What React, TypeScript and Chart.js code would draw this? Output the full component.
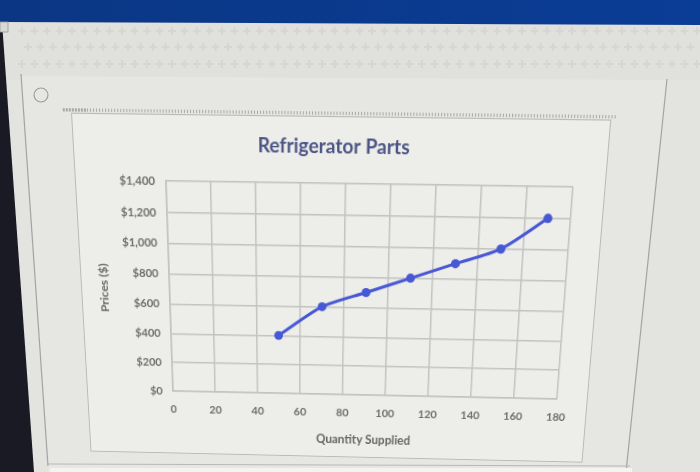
import React, { useEffect, useRef } from "react";
import { Chart, registerables } from "chart.js";

Chart.register(...registerables);

// ---- data ----
const quantities = [50, 70, 90, 110, 130, 150, 170];
const prices = [400, 600, 700, 800, 900, 1000, 1200];
const xTickValues = [0, 20, 40, 60, 80, 100, 120, 140, 160, 180];
const yTickValues = [0, 200, 400, 600, 800, 1000, 1200, 1400];
const chartTitle = "Refrigerator Parts";
const xAxisTitle = "Quantity Supplied";
const yAxisTitle = "Prices ($)";

// ---- layout constants ----
const PL = 91; // y-axis block width
const PT = 61; // title block height
const PR = 31;
const PB = 66; // x-axis block height
const W = PL + 405 + PR;
const H = PT + 209 + PB;
const FX = 77; // frame offset inside wrapper
const FY = 121;

const FONT = "Lato, 'Open Sans', 'DejaVu Sans', sans-serif";

function solveHomography(src: number[][], dst: number[][]): number[] {
  const A: number[][] = [];
  for (let i = 0; i < 4; i++) {
    const [x, y] = src[i];
    const [u, v] = dst[i];
    A.push([x, y, 1, 0, 0, 0, -x * u, -y * u, u]);
    A.push([0, 0, 0, x, y, 1, -x * v, -y * v, v]);
  }
  const n = 8;
  for (let c = 0; c < n; c++) {
    let p = c;
    for (let r = c + 1; r < n; r++) if (Math.abs(A[r][c]) > Math.abs(A[p][c])) p = r;
    [A[c], A[p]] = [A[p], A[c]];
    for (let r = 0; r < n; r++) {
      if (r === c) continue;
      const f = A[r][c] / A[c][c];
      for (let k = c; k <= n; k++) A[r][k] -= f * A[c][k];
    }
  }
  return A.map((row, i) => row[n] / row[i]);
}

const srcQuad = [
  [FX + PL, FY + PT],
  [FX + W - PR, FY + PT],
  [FX + W - PR, FY + H - PB],
  [FX + PL, FY + H - PB],
];
const dstQuad = [
  [166, 181],
  [573, 187],
  [557, 399],
  [173, 391],
];
const h = solveHomography(srcQuad, dstQuad);
const matrix = `matrix3d(${h[0]},${h[3]},0,${h[6]},${h[1]},${h[4]},0,${h[7]},0,0,1,0,${h[2]},${h[5]},0,1)`;

const titlePlugin = {
  id: "frameTitle",
  afterDraw(chart: any) {
    const ctx = chart.ctx;
    ctx.save();
    ctx.font = `bold 19px ${FONT}`;
    ctx.fillStyle = "#4b5485";
    ctx.textAlign = "center";
    ctx.textBaseline = "middle";
    ctx.fillText(chartTitle, chart.width / 2 - 5, 27);
    ctx.restore();
  },
};

function ChartCanvas() {
  const ref = useRef<HTMLCanvasElement | null>(null);
  useEffect(() => {
    if (!ref.current) return;
    const grid = "#c2c2c0";
    const tickFont = { family: FONT, size: 11.5, weight: "bold" };
    const chart = new Chart(ref.current, {
      type: "line",
      data: {
        datasets: [
          {
            data: quantities.map((q, i) => ({ x: q, y: prices[i] })),
            borderColor: "#4758d4",
            backgroundColor: "#4758d4",
            borderWidth: 3,
            pointRadius: 4.5,
            pointBorderWidth: 0,
            pointBackgroundColor: "#4758d4",
            tension: 0.25,
            fill: false,
          },
        ],
      },
      options: {
        responsive: false,
        animation: false,
        events: [],
        layout: { padding: { left: 0, top: PT, right: PR, bottom: 0 } },
        plugins: {
          legend: { display: false },
          tooltip: { enabled: false },
          title: { display: false },
        },
        scales: {
          x: {
            type: "linear",
            min: xTickValues[0],
            max: xTickValues[xTickValues.length - 1],
            afterBuildTicks: (s: any) => {
              s.ticks = xTickValues.map((v) => ({ value: v }));
            },
            afterFit: (s: any) => {
              s.height = PB;
            },
            ticks: {
              color: "#6e6e6e",
              font: tickFont,
              padding: 12,
              maxRotation: 0,
              callback: (v: any) => String(v),
            },
            grid: { color: grid, lineWidth: 1.5, drawTicks: false },
            border: { display: true, color: grid, width: 1.5 },
            title: {
              display: true,
              text: xAxisTitle,
              color: "#666666",
              font: { family: FONT, size: 12.5, weight: "bold" },
              padding: { top: 4, bottom: 11 },
            },
          },
          y: {
            type: "linear",
            min: yTickValues[0],
            max: yTickValues[yTickValues.length - 1],
            afterBuildTicks: (s: any) => {
              s.ticks = yTickValues.map((v) => ({ value: v }));
            },
            afterFit: (s: any) => {
              s.width = PL;
            },
            ticks: {
              color: "#6e6e6e",
              font: tickFont,
              padding: 11,
              callback: (v: any) => "$" + Number(v).toLocaleString("en-US"),
            },
            grid: { color: grid, lineWidth: 1.5, drawTicks: false },
            border: { display: true, color: grid, width: 1.5 },
            title: {
              display: true,
              text: yAxisTitle,
              color: "#666666",
              font: { family: FONT, size: 12, weight: "bold" },
              padding: { top: 16, bottom: 6 },
            },
          },
        },
      },
      plugins: [titlePlugin],
    } as any);
    return () => chart.destroy();
  }, []);
  return (
    <canvas
      ref={ref}
      width={W}
      height={H}
      style={{ position: "absolute", left: 0, top: 0, width: W, height: H }}
    />
  );
}

function PlusPattern() {
  const items: React.ReactNode[] = [];
  const rows = [31, 47, 64];
  rows.forEach((y, ri) => {
    for (let x = 22 + (ri % 2) * 6; x < 700; x += 12.5) {
      items.push(
        <g key={`${ri}-${x}`} stroke="#d3d3d0" strokeWidth={2.2}>
          <line x1={x - 4} y1={y} x2={x + 4} y2={y} />
          <line x1={x} y1={y - 4} x2={x} y2={y + 4} />
        </g>
      );
    }
  });
  return <g opacity={0.75}>{items}</g>;
}

export default function App() {
  return (
    <div
      style={{
        position: "fixed",
        left: 0,
        top: 0,
        width: 700,
        height: 472,
        overflow: "hidden",
        background: "#e3e3e0",
        fontFamily: FONT,
      }}
    >
      <svg
        width={700}
        height={472}
        style={{ position: "absolute", left: 0, top: 0 }}
      >
        <defs>
          <linearGradient id="bar" x1="0" y1="0" x2="1" y2="0">
            <stop offset="0" stopColor="#0b3684" />
            <stop offset="1" stopColor="#0a3d96" />
          </linearGradient>
        </defs>
        {/* top textured strip */}
        <rect x={0} y={20} width={700} height={60} fill="#e0e0dd" />
        <PlusPattern />
        {/* card */}
        <polygon points="21,76 667,80 626,472 48,472" fill="#e6e6e3" />
        <line x1={21} y1={74} x2={48} y2={466} stroke="#a3a3a1" strokeWidth={1.2} />
        <line x1={667} y1={79} x2={626} y2={472} stroke="#a3a3a1" strokeWidth={1.2} />
        <line x1={48} y1={464} x2={630} y2={466} stroke="#b8b8b5" strokeWidth={1} />
        <polygon points="50,468 632,468 632,472 50,472" fill="#f3f3f1" />
        {/* radio */}
        <circle cx={41} cy={95} r={7} fill="none" stroke="#9b9b99" strokeWidth={1.1} />
        {/* blue bar */}
        <polygon points="0,0 700,0 700,25 0,22" fill="url(#bar)" />
        {/* dark left strip */}
        <polygon points="0,22 2,22 34,472 0,472" fill="#191a24" />
        <rect x={0} y={22} width={8} height={10} fill="#d8d8d6" stroke="#999" strokeWidth={0.8} />
      </svg>
      <div
        style={{
          position: "absolute",
          left: 0,
          top: 0,
          width: 700,
          height: 472,
          transformOrigin: "0 0",
          transform: matrix,
        }}
      >
        <div
          style={{
            position: "absolute",
            left: FX - 9,
            top: FY - 5,
            width: W + 15,
            height: 3,
            backgroundImage:
              "repeating-linear-gradient(90deg, #a9a9a7 0px, #a9a9a7 1.5px, transparent 1.5px, transparent 3px)",
          }}
        />
        <div
          style={{
            position: "absolute",
            left: FX,
            top: FY,
            width: W,
            height: H,
            background: "#ededea",
            outline: "1.5px solid #b9b9b6",
          }}
        >
          <ChartCanvas />
        </div>
      </div>
    </div>
  );
}
